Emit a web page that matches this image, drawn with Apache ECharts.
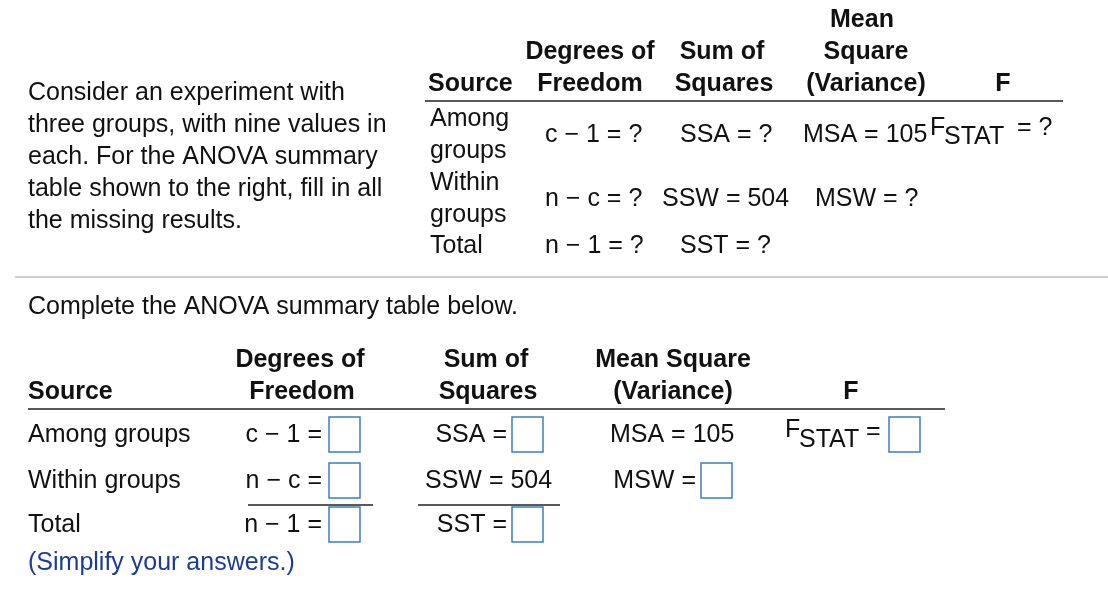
<!DOCTYPE html>
<html>
<head>
<meta charset="utf-8">
<script src="https://cdn.jsdelivr.net/npm/echarts@6/dist/echarts.min.js"></script>
<style>html,body{margin:0;background:#fff}#chart{width:1108px;height:592px}</style>
</head>
<body>
<div id="chart"></div>
<script>
var introLines = ['Consider an experiment with', 'three groups, with nine values in', 'each. For the ANOVA summary', 'table shown to the right, fill in all', 'the missing results.'];
var topSources = [['Among', 'groups'], ['Within', 'groups'], ['Total']];
var topDf = ['c \u2212 1 = ?', 'n \u2212 c = ?', 'n \u2212 1 = ?'];
var topSS = ['SSA = ?', 'SSW = 504', 'SST = ?'];
var topMS = ['MSA = 105', 'MSW = ?', ''];
var bottomSources = ['Among groups', 'Within groups', 'Total'];
var bottomDf = ['c \u2212 1 =', 'n \u2212 c =', 'n \u2212 1 ='];
var bottomSS = ['SSA =', 'SSW = 504', 'SST ='];
var bottomMS = ['MSA = 105', 'MSW =', ''];
var ssHasBox = [true, false, true];
var msHasBox = [false, true, false];

var FONT = '25px "Liberation Sans", Arial, sans-serif';
var BOLD = 'bold 25px "Liberation Sans", Arial, sans-serif';
var g = [];
function txt(s, x, y, opt) {
  opt = opt || {};
  g.push({type: 'text', style: {text: s, x: x, y: y, font: opt.font || FONT, fill: opt.fill || '#111',
    align: opt.align || 'left', verticalAlign: 'middle'}});
}
function line(x1, y1, x2, y2, c, w) {
  g.push({type: 'line', shape: {x1: x1, y1: y1, x2: x2, y2: y2}, style: {stroke: c || '#222', lineWidth: w || 1.5}});
}
function box(x, y) {
  g.push({type: 'rect', shape: {x: x, y: y, width: 31, height: 35}, style: {fill: '#fff', stroke: '#3a7fc1', lineWidth: 1.5}});
}

introLines.forEach(function (l, i) { txt(l, 28, 93 + i * 32); });

// top table
txt('Mean', 862, 20, {font: BOLD, align: 'center'});
txt('Square', 866, 52, {font: BOLD, align: 'center'});
txt('(Variance)', 866, 84, {font: BOLD, align: 'center'});
txt('Degrees of', 590, 52, {font: BOLD, align: 'center'});
txt('Freedom', 590, 84, {font: BOLD, align: 'center'});
txt('Sum of', 722, 52, {font: BOLD, align: 'center'});
txt('Squares', 724, 84, {font: BOLD, align: 'center'});
txt('Source', 428, 84, {font: BOLD});
txt('F', 1003, 84, {font: BOLD, align: 'center'});
line(425, 101, 1063, 101);
var topY = [135, 199, 246];
topSources.forEach(function (s, i) {
  if (s.length === 2) { txt(s[0], 430, topY[i] - 16); txt(s[1], 430, topY[i] + 16); }
  else txt(s[0], 430, topY[i]);
  txt(topDf[i], 545, topY[i]);
  txt(topSS[i], i === 1 ? 662 : 680, topY[i]);
  if (topMS[i]) txt(topMS[i], i === 0 ? 803 : 815, topY[i]);
});
txt('F', 930, 128);
txt('STAT', 944, 137);
txt('= ?', 1017, 128);

line(15, 277, 1108, 277, '#ccc', 2);
txt('Complete the ANOVA summary table below.', 28, 307);

// bottom table
txt('Degrees of', 300, 360, {font: BOLD, align: 'center'});
txt('Freedom', 302, 392, {font: BOLD, align: 'center'});
txt('Sum of', 486, 360, {font: BOLD, align: 'center'});
txt('Squares', 488, 392, {font: BOLD, align: 'center'});
txt('Mean Square', 673, 360, {font: BOLD, align: 'center'});
txt('(Variance)', 673, 392, {font: BOLD, align: 'center'});
txt('Source', 28, 392, {font: BOLD});
txt('F', 851, 392, {font: BOLD, align: 'center'});
line(28, 409, 945, 409);
var botY = [435, 481, 525];
bottomSources.forEach(function (s, i) {
  var y = botY[i];
  txt(s, 28, y);
  txt(bottomDf[i], 322, y, {align: 'right'});
  box(329, y - 18);
  if (ssHasBox[i]) { txt(bottomSS[i], 507, y, {align: 'right'}); box(512, y - 18); }
  else txt(bottomSS[i], 425, y);
  if (bottomMS[i]) {
    if (msHasBox[i]) { txt(bottomMS[i], 696, y, {align: 'right'}); box(701, y - 18); }
    else txt(bottomMS[i], 610, y);
  }
});
txt('F', 785, 430);
txt('STAT', 799, 440);
txt('=', 866, 432);
box(889, 417);
line(248, 505, 373, 505, '#222', 1.5);
line(418, 505, 560, 505, '#222', 1.5);
txt('(Simplify your answers.)', 28, 563, {fill: '#1c3c94'});

var chart = echarts.init(document.getElementById('chart'));
chart.setOption({animation: false, graphic: g});
</script>
</body>
</html>
